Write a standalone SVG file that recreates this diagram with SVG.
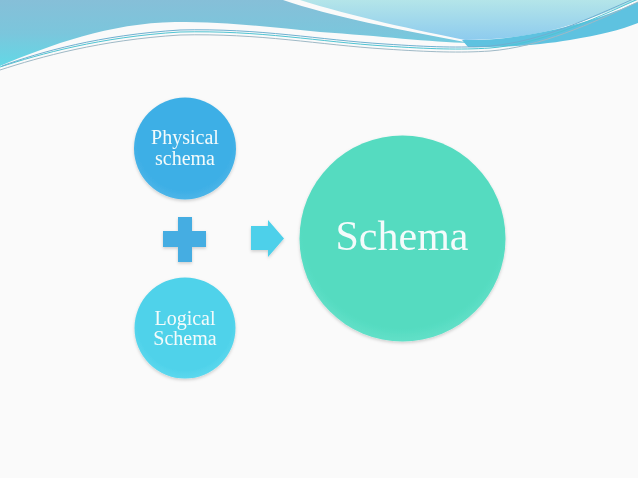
<svg xmlns="http://www.w3.org/2000/svg" width="638" height="478" viewBox="0 0 638 478">
<style>
.lbl{font-family:"Liberation Serif","DejaVu Serif",serif;fill:#f4fbfb;text-anchor:middle}
.wl{fill:none;stroke-width:1}
</style>
<defs>
<linearGradient id="gl" x1="0" y1="0" x2="0" y2="1">
<stop offset="0" stop-color="#86bfd8"/><stop offset="0.5" stop-color="#7bc6dc"/><stop offset="1" stop-color="#62d8e6"/>
</linearGradient>
<linearGradient id="gr" x1="0" y1="0" x2="0" y2="1">
<stop offset="0" stop-color="#b4e5e9"/><stop offset="1" stop-color="#8dcbee"/>
</linearGradient>
<radialGradient id="rb" cx="0.5" cy="0.45" r="0.55">
<stop offset="0.85" stop-color="#3eafe6"/><stop offset="1" stop-color="#4cb5e8"/>
</radialGradient>
<radialGradient id="rc" cx="0.5" cy="0.45" r="0.55">
<stop offset="0.85" stop-color="#4fd2ea"/><stop offset="1" stop-color="#5cd8ee"/>
</radialGradient>
<radialGradient id="rg" cx="0.5" cy="0.45" r="0.55">
<stop offset="0.88" stop-color="#54dbc0"/><stop offset="1" stop-color="#62e0c8"/>
</radialGradient>
<filter id="sh" x="-20%" y="-20%" width="140%" height="140%">
<feDropShadow dx="0" dy="1.5" stdDeviation="1.5" flood-color="#000" flood-opacity="0.18"/>
</filter>
</defs>
<rect width="638" height="478" fill="#fafafa"/>
<g id="header">
<path d="M0,0 H283 C330,16 400,30 470,43 C430,42 380,36 320,32 C270,27 230,22 175,22 C110,23 50,45 0,66 Z" fill="url(#gl)"/>
<path d="M300,0 H638 C615,8 590,20 560,28 C530,36 500,40 465,40 C420,31 350,16 300,0 Z" fill="url(#gr)"/>
<path d="M462,40 C510,41 560,30 600,17 C615,12 628,6 638,2 V23 C620,30 600,35 570,40 C540,45 500,48 468,47 Z" fill="#5ec2e0"/>
<path class="wl" stroke="#4fc4d2" d="M0,67 C40,54 100,37 180,32 C260,30 320,42 385,46 C430,49 460,50 490,48 C540,44 590,21 638,-1"/>
<path class="wl" stroke="#9fb9c6" d="M0,70 C40,57 100,40 180,35 C260,33 320,45 385,49 C430,52 460,53 490,51 C540,47 590,24 638,2"/>
<path class="wl" stroke="#6fb0d0" d="M2,66 C40,52 100,35 180,30 C260,28 320,40 385,44 C430,47 460,48 490,46 C540,42 590,18 638,-3"/>
</g>
<g id="physical" filter="url(#sh)">
<circle cx="185" cy="148.5" r="51" fill="url(#rb)"/>
<text class="lbl" x="185" y="144" font-size="20">Physical</text>
<text class="lbl" x="185" y="165" font-size="20">schema</text>
</g>
<g id="plus" filter="url(#sh)">
<path d="M178,217 H192 V231 H206 V247 H192 V262 H178 V247 H163 V231 H178 Z" fill="#45ade2"/>
</g>
<g id="logical" filter="url(#sh)">
<circle cx="185" cy="328" r="50.5" fill="url(#rc)"/>
<text class="lbl" x="185" y="325" font-size="20">Logical</text>
<text class="lbl" x="185" y="345" font-size="20">Schema</text>
</g>
<g id="connectors" filter="url(#sh)">
<path d="M251,226 H268 V220 L284,238.5 L268,257 V250 H251 Z" fill="#4dd0ea"/>
</g>
<g id="schema" filter="url(#sh)">
<circle cx="402.5" cy="238.5" r="103" fill="url(#rg)"/>
<text class="lbl" x="402" y="250" font-size="42">Schema</text>
</g>
</svg>
